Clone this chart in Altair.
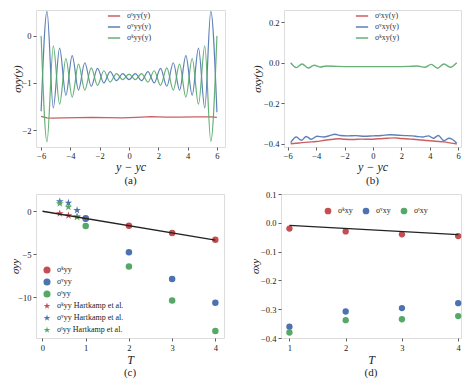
import altair as alt
import pandas as pd

RED = "#C44E52"
BLUE = "#4C72B0"
GREEN = "#55A868"
DARK = "#333333"
SERIF = "Liberation Serif"
STAR = "M0,-1L0.2245,-0.309L0.951,-0.309L0.363,0.118L0.588,0.809L0,0.382L-0.588,0.809L-0.363,0.118L-0.951,-0.309L-0.2245,-0.309Z"

# ---------------- panel (a): sigma_yy(y) ----------------
a_labels = ["σᵗyy(y)", "σᵛyy(y)", "σᵏyy(y)"]
a_x = [-6.0, -5.60, -5.17, -4.74, -4.31, -3.88, -3.45, -3.02, -2.58, -2.15, -1.72, -1.29, -0.86, -0.43,
       0.0, 0.43, 0.86, 1.29, 1.72, 2.15, 2.58, 3.02, 3.45, 3.88, 4.31, 4.74, 5.17, 5.58, 6.0]
a_v = [-1.60, 0.52, -1.53, -0.26, -1.26, -0.42, -1.15, -0.57, -1.07, -0.69, -1.00, -0.76, -0.95, -0.80,
       -0.93, -0.80, -0.95, -0.76, -1.00, -0.69, -1.07, -0.57, -1.15, -0.42, -1.26, -0.26, -1.53, 0.52, -1.62]
a_k = [0.0, -2.25, -0.21, -1.45, -0.48, -1.30, -0.60, -1.15, -0.68, -1.05, -0.74, -0.98, -0.80, -0.93,
       -0.81, -0.93, -0.80, -0.98, -0.74, -1.05, -0.68, -1.15, -0.60, -1.30, -0.48, -1.45, -0.21, -2.24, 0.0]
a_tx = [-6.0, -5.6, -5.2, -4.5, -3.5, -2.5, -1.5, -0.5, 0.5, 1.5, 2.5, 3.5, 4.5, 5.2, 5.6, 6.0]
a_t = [-1.71, -1.74, -1.745, -1.74, -1.735, -1.73, -1.735, -1.74, -1.73, -1.715, -1.725, -1.725,
       -1.72, -1.72, -1.72, -1.73]

# ---------------- panel (b): sigma_xy(y) ----------------
b_labels = ["σᵗxy(y)", "σᵛxy(y)", "σᵏxy(y)"]
b_tx = [-5.8, -5.2, -4.6, -4.0, -3.4, -2.8, -2.4, -2.0, -1.4, -0.8, -0.2, 0.4, 1.0, 1.5, 2.0, 2.6,
        3.2, 3.8, 4.4, 5.0, 5.5, 5.9]
b_t = [-0.399, -0.395, -0.391, -0.388, -0.382, -0.377, -0.374, -0.377, -0.378, -0.376, -0.377,
       -0.374, -0.372, -0.370, -0.373, -0.376, -0.379, -0.383, -0.387, -0.390, -0.396, -0.400]
b_vx = [-5.8, -5.4, -5.05, -4.7, -4.35, -3.95, -3.5, -3.0, -2.7, -2.3, -1.8, -1.2, -0.6, 0.0, 0.6,
        1.2, 1.8, 2.4, 3.0, 3.5, 3.9, 4.25, 4.6, 5.0, 5.35, 5.6, 5.9]
b_v = [-0.393, -0.366, -0.382, -0.363, -0.377, -0.362, -0.366, -0.358, -0.352, -0.358, -0.360,
       -0.359, -0.362, -0.360, -0.358, -0.355, -0.357, -0.359, -0.362, -0.366, -0.360, -0.372,
       -0.358, -0.384, -0.372, -0.378, -0.396]
b_kx = [-5.8, -5.4, -5.0, -4.55, -4.15, -3.7, -3.3, -2.5, -1.5, -0.5, 0.5, 1.5, 2.5, 3.1, 3.65,
        4.1, 4.55, 5.0, 5.45, 5.9]
b_k = [0.0, -0.024, -0.006, -0.026, -0.012, -0.021, -0.016, -0.018, -0.019, -0.019, -0.019,
       -0.019, -0.018, -0.016, -0.022, -0.008, -0.027, -0.006, -0.022, 0.0]

# ---------------- panel (c): sigma_yy vs T ----------------
c_labels = ["σᵏyy", "σᵛyy", "σᵗyy",
            "σᵏyy Hartkamp et al.", "σᵛyy Hartkamp et al.", "σᵗyy Hartkamp et al."]
c_T = [1, 2, 3, 4]
c_k = [-0.80, -1.69, -2.51, -3.30]
c_v = [-0.86, -4.76, -7.87, -10.6]
c_t = [-1.72, -6.40, -10.34, -13.9]
c_hT = [0.4, 0.6, 0.8]
c_hk = [-0.26, -0.49, -0.67]
c_hv = [1.12, 0.97, 0.11]
c_ht = [0.90, 0.49, -0.62]
c_lineT = [0.0, 4.0]
c_lineY = [0.0, -3.35]

# ---------------- panel (d): sigma_xy vs T ----------------
d_labels = ["σᵏxy", "σᵛxy", "σᵗxy"]
d_T = [1, 2, 3, 4]
d_k = [-0.020, -0.030, -0.040, -0.046]
d_v = [-0.361, -0.308, -0.296, -0.279]
d_t = [-0.381, -0.338, -0.335, -0.324]
d_lineT = [1.0, 4.0]
d_lineY = [-0.009, -0.041]

W_A, W_B, W_C, W_D = 189, 177, 188, 180
H_TOP, H_BOT = 137, 144


def df(xs, ys, name):
    return pd.DataFrame({"x": xs, "y": ys, "s": name})


def axis(title, values, fmt, extent, title_pad=2, label_pad=2, tsize=11):
    return alt.Axis(title=title, values=values, format=fmt, grid=False, domain=False,
                    tickSize=3, tickColor=DARK, tickWidth=0.8, labelFont=SERIF,
                    labelFontSize=8.5, labelColor="#222", labelPadding=label_pad,
                    titleFont=SERIF, titleFontSize=tsize, titleFontStyle="italic",
                    titleFontWeight="normal", titleColor="#222", titlePadding=title_pad,
                    minExtent=extent, maxExtent=extent)


def caption(text, off):
    return alt.TitleParams(text, orient="bottom", font=SERIF, fontSize=11,
                           fontWeight="normal", color="#222", offset=off)


def line_legend(lx, ly):
    return alt.Legend(title=None, orient="none", legendX=lx, legendY=ly, labelFont=SERIF,
                      labelFontSize=8, labelColor="#333", symbolType="stroke", symbolSize=150,
                      symbolStrokeWidth=1.5, rowPadding=0, labelOffset=6, padding=0)


# ---- (a)
dfa_t = df(a_tx, a_t, a_labels[0])
dfa_vk = pd.concat([df(a_x, a_v, a_labels[1]), df(a_x, a_k, a_labels[2])])
xa = alt.X("x:Q", scale=alt.Scale(domain=[-6.35, 6.55], nice=False),
           axis=axis("y − yc", [-6, -4, -2, 0, 2, 4, 6], "d", 12, 2, 1, 12))
ya = alt.Y("y:Q", scale=alt.Scale(domain=[-2.36, 0.55], nice=False),
           axis=axis("σyy(y)", [0, -1, -2], "d", 13, 1))
ca = alt.Color("s:N", scale=alt.Scale(domain=a_labels, range=[RED, BLUE, GREEN]),
               legend=line_legend(71, -1))
pa = alt.layer(
    alt.Chart(dfa_t).mark_line(strokeWidth=1.3, opacity=0.9).encode(x=xa, y=ya, color=ca),
    alt.Chart(dfa_vk).mark_line(strokeWidth=1.2, interpolate="monotone", opacity=0.9).encode(
        x=xa, y=ya, color=ca, detail="s:N"),
).properties(width=W_A, height=H_TOP, title=caption("(a)", 3))

# ---- (b)
dfb = pd.concat([df(b_tx, b_t, b_labels[0]), df(b_vx, b_v, b_labels[1]), df(b_kx, b_k, b_labels[2])])
xb = alt.X("x:Q", scale=alt.Scale(domain=[-6.27, 6.2], nice=False),
           axis=axis("y − yc", [-6, -4, -2, 0, 2, 4, 6], "d", 12, 2, 1, 12))
yb = alt.Y("y:Q", scale=alt.Scale(domain=[-0.415, 0.26], nice=False),
           axis=axis("σxy(y)", [0.2, 0.0, -0.2, -0.4], ".1f", 20, 2))
cb = alt.Color("s:N", scale=alt.Scale(domain=b_labels, range=[RED, BLUE, GREEN]),
               legend=line_legend(71, -1))
pb = alt.Chart(dfb).mark_line(strokeWidth=1.4, interpolate="monotone", opacity=0.9).encode(
    x=xb, y=yb, color=cb).properties(width=W_B, height=H_TOP, title=caption("(b)", 3))

# ---- (c)
dfc_pts = pd.concat([df(c_T, c_k, c_labels[0]), df(c_T, c_v, c_labels[1]), df(c_T, c_t, c_labels[2])])
dfc_star = pd.concat([df(c_hT, c_hk, c_labels[3]), df(c_hT, c_hv, c_labels[4]), df(c_hT, c_ht, c_labels[5])])
dfc_line = pd.DataFrame({"x": c_lineT, "y": c_lineY})
xc = alt.X("x:Q", scale=alt.Scale(domain=[-0.15, 4.2], nice=False),
           axis=axis("T", [0, 1, 2, 3, 4], "d", 14, 2, 2, 12))
yc = alt.Y("y:Q", scale=alt.Scale(domain=[-14.7, 2.0], nice=False),
           axis=axis("σyy", [0, -5, -10], "d", 16, 0))
cc = alt.Color("s:N", scale=alt.Scale(domain=c_labels, range=[RED, BLUE, GREEN, RED, BLUE, GREEN]),
               legend=alt.Legend(title=None, orient="none", legendX=7, legendY=72, labelFont=SERIF,
                                 labelFontSize=8, labelColor="#222", symbolSize=50, rowPadding=4,
                                 labelOffset=6, padding=0, symbolStrokeWidth=0))
sc = alt.Shape("s:N", scale=alt.Scale(domain=c_labels, range=["circle"] * 3 + [STAR] * 3),
               legend=alt.Legend(title=None, orient="none", legendX=7, legendY=72))
pc = alt.layer(
    alt.Chart(dfc_pts).mark_point(filled=True, size=42, opacity=1).encode(
        x=xc, y=yc, color=cc, shape=sc),
    alt.Chart(dfc_star).mark_point(filled=True, size=65, opacity=1).encode(
        x=xc, y=yc, color=cc, shape=sc),
    alt.Chart(dfc_line).mark_line(color="#222", strokeWidth=1.3).encode(x=xc, y=yc),
).properties(width=W_C, height=H_BOT, title=caption("(c)", 2))

# ---- (d)
dfd = pd.concat([df(d_T, d_k, d_labels[0]), df(d_T, d_v, d_labels[1]), df(d_T, d_t, d_labels[2])])
dfd_line = pd.DataFrame({"x": d_lineT, "y": d_lineY})
xd = alt.X("x:Q", scale=alt.Scale(domain=[0.85, 4.05], nice=False),
           axis=axis("T", [1, 2, 3, 4], "d", 14, 2, 2, 12))
yd = alt.Y("y:Q", scale=alt.Scale(domain=[-0.4, 0.1], nice=False),
           axis=axis("σxy", [0.1, 0.0, -0.1, -0.2, -0.3, -0.4], ".1f", 20, 1))
cd = alt.Color("s:N", scale=alt.Scale(domain=d_labels, range=[RED, BLUE, GREEN]),
               legend=alt.Legend(title=None, orient="none", direction="horizontal", legendX=43,
                                 legendY=13, labelFont=SERIF, labelFontSize=8, labelColor="#222",
                                 symbolType="circle", symbolSize=45, columnPadding=9,
                                 labelOffset=6, padding=0, symbolStrokeWidth=0))
pd_ = alt.layer(
    alt.Chart(dfd).mark_circle(size=40, opacity=1).encode(x=xd, y=yd, color=cd),
    alt.Chart(dfd_line).mark_line(color="#222", strokeWidth=1.3).encode(x=xd, y=yd),
).properties(width=W_D, height=H_BOT, title=caption("(d)", 2))

row1 = alt.hconcat(pa, pb, spacing=24).resolve_scale(color="independent", shape="independent")
row2 = alt.hconcat(pc, pd_, spacing=23).resolve_scale(color="independent", shape="independent")
chart = alt.vconcat(row1, row2, spacing=2).resolve_scale(
    color="independent", shape="independent"
).properties(padding=0).configure_view(stroke=DARK, strokeWidth=1.2).configure(background="white")

chart.save("out.html", embed_options={"renderer": "svg", "actions": False})
